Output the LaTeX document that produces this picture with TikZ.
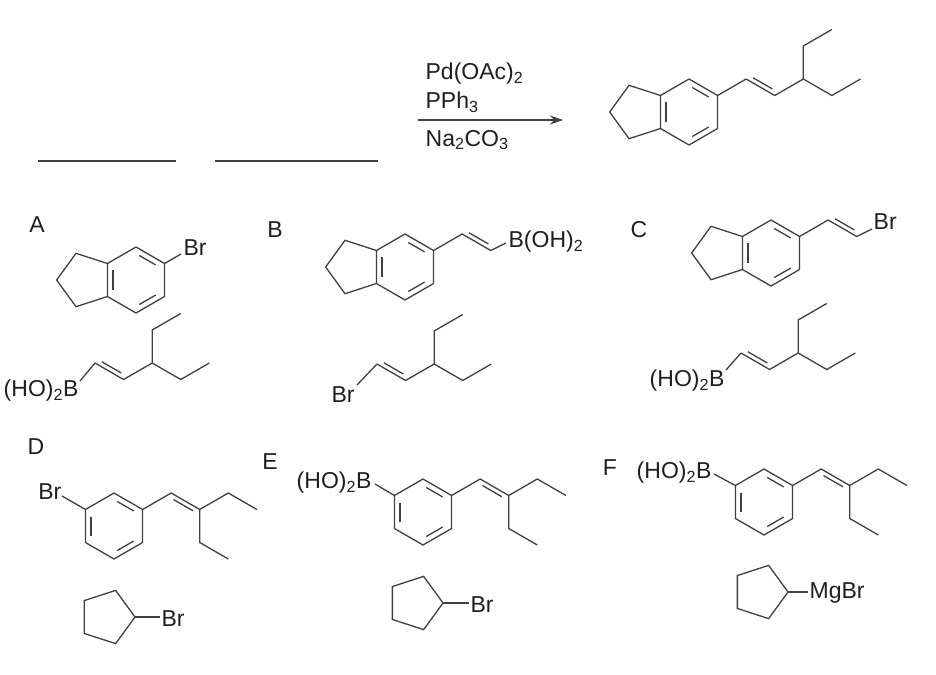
\documentclass[tikz,border=0pt]{standalone}
\usepackage{fontspec}
\setmainfont{Liberation Sans}
\usetikzlibrary{calc,arrows.meta}
\newcommand\innerb[3]{\draw ($($(#1)!.8!(#2)$)!.14!($(#1)!.8!(#3)$)$) -- ($($(#1)!.8!(#3)$)!.14!($(#1)!.8!(#2)$)$);}
\newcommand\alk[4]{\draw ($($(#1)!4.5pt!#3:(#2)$)!.16!($(#2)!4.5pt!#4:(#1)$)$) -- ($($(#2)!4.5pt!#4:(#1)$)!.16!($(#1)!4.5pt!#3:(#2)$)$);}
\newcommand\benz[4]{%
  \coordinate (#1c) at (#2,#3);
  \foreach \n/\a in {t/-90,ur/-30,lr/30,b/90,ll/150,ul/210} {\coordinate (#1\n) at ($(#1c)+(\a:#4)$);}
  \draw (#1t)--(#1ur)--(#1lr)--(#1b)--(#1ll)--(#1ul)--cycle;
  \innerb{#1c}{#1ll}{#1ul}\innerb{#1c}{#1lr}{#1b}\innerb{#1c}{#1t}{#1ur}}
\newcommand\indane[4]{%
  \benz{#1}{#2}{#3}{#4}
  \coordinate (#1p1) at ($(#1ul)+(198:#4)$);
  \coordinate (#1p2) at ($(#1p1)+(126:#4)$);
  \draw (#1ul)--(#1p1)--(#1p2)--($(#1p2)+(54:#4)$)--(#1ll);}
\newcommand\chainR[2]{%
  \coordinate (#1c1) at (#2);
  \coordinate (#1c2) at ($(#1c1)+(30:33)$);
  \coordinate (#1c3) at ($(#1c2)+(-30:33)$);
  \coordinate (#1c4) at ($(#1c3)+(-90:33)$);
  \coordinate (#1c5) at ($(#1c4)+(-30:33)$);
  \coordinate (#1c6) at ($(#1c3)+(30:33)$);
  \coordinate (#1c7) at ($(#1c6)+(-30:33)$);
  \draw (#1c1)--(#1c2)--(#1c3)--(#1c4)--(#1c5) (#1c3)--(#1c6)--(#1c7);
  \alk{#1c1}{#1c2}{90}{-90}}
\newcommand\sidechain[2]{% from ring atom #2
  \coordinate (#1s1) at ($(#2)+(-30:33)$);
  \coordinate (#1s2) at ($(#1s1)+(30:33)$);
  \coordinate (#1s3) at ($(#1s2)+(-30:33)$);
  \coordinate (#1s4) at ($(#1s3)+(30:33)$);
  \coordinate (#1s5) at ($(#1s2)+(90:33)$);
  \coordinate (#1s6) at ($(#1s5)+(30:33)$);
  \draw (#2)--(#1s1)--(#1s2)--(#1s3)--(#1s4) (#1s2)--(#1s5)--(#1s6);
  \alk{#1s1}{#1s2}{-90}{90}}
\newcommand\cpent[4]{%
  \foreach \i/\a in {0/0,1/72,2/144,3/216,4/288} {\coordinate (#1q\i) at ($(#2,#3)+(\a:#4)$);}
  \draw (#1q0)--(#1q1)--(#1q2)--(#1q3)--(#1q4)--cycle;}
\begin{document}
\begin{tikzpicture}[x=1pt,y=-1pt,line width=1.3pt,draw=black!75,
  lbl/.style={inner sep=0pt,font=\fontsize{23}{26}\selectfont,text=black!88},
  reag/.style={lbl,anchor=west}]
\useasboundingbox (0,0) rectangle (936,674);
% blanks and arrow
\coordinate (l1a) at (38,161); \coordinate (l1b) at (176,161);
\coordinate (l2a) at (215,161); \coordinate (l2b) at (378,161);
\draw (l1a)--(l1b) (l2a)--(l2b);
\coordinate (ar1) at (418,120); \coordinate (ar2) at (563,120);
\draw[-{Stealth[length=13pt,width=9pt]}] (ar1)--(ar2);
\node[reag] (r1) at (425,74) {Pd(OAc)\textsubscript{2}};
\node[reag] (r2) at (425,102) {PPh\textsubscript{3}};
\node[reag] (r3) at (425,140) {Na\textsubscript{2}CO\textsubscript{3}};
% product
\indane{P}{689}{112}{33}
\chainR{Pk}{$(Pur)+(-30:33)$}
\draw (Pur)--(Pkc1);
% labels
\node[lbl] (LA) at (37,225) {A};
\node[lbl] (LB) at (275,230) {B};
\node[lbl] (LC) at (639,230) {C};
\node[lbl] (LD) at (36,447) {D};
\node[lbl] (LE) at (270,462) {E};
\node[lbl] (LF) at (610,468) {F};
% A
\indane{A}{136}{280}{33}
\coordinate (Abr) at (181,254);
\draw (Aur)--(Abr);
\node[lbl,anchor=west] (AbrT) at (183,248) {Br};
\chainR{Ak}{95,363}
\coordinate (Abs) at (80,381);
\draw (Abs)--(Akc1);
\node[lbl,anchor=east] (AB) at (79,391) {(HO)\textsubscript{2}B};
% B
\indane{B}{405}{267}{33}
\coordinate (Bv1) at ($(Bur)+(-30:33)$);
\coordinate (Bv2) at ($(Bv1)+(30:33)$);
\coordinate (Bbs) at (506,243);
\draw (Bur)--(Bv1)--(Bv2)--(Bbs);
\alk{Bv1}{Bv2}{90}{-90}
\node[lbl,anchor=west] (BB) at (508,242) {B(OH)\textsubscript{2}};
\chainR{Bk}{377,364}
\coordinate (Bbr) at (357,385);
\draw (Bbr)--(Bkc1);
\node[lbl] (BbrT) at (343,395) {Br};
% C
\indane{C}{771}{253}{33}
\coordinate (Cv1) at ($(Cur)+(-30:33)$);
\coordinate (Cv2) at ($(Cv1)+(30:33)$);
\coordinate (Cbs) at (872,229);
\draw (Cur)--(Cv1)--(Cv2)--(Cbs);
\alk{Cv1}{Cv2}{90}{-90}
\node[lbl,anchor=west] (CbrT) at (873,222) {Br};
\chainR{Ck}{741,353}
\coordinate (Cbb) at (726,370);
\draw (Cbb)--(Ckc1);
\node[lbl,anchor=east] (CB) at (725,381) {(HO)\textsubscript{2}B};
% D
\benz{D}{114}{526}{33}
\coordinate (Dbr) at (62,496);
\draw (Dul)--(Dbr);
\node[lbl,anchor=east] (DbrT) at (62,492) {Br};
\sidechain{Dk}{Dur}
\cpent{Dp}{107}{617}{28}
\coordinate (Dpb) at (160,617);
\draw (Dpq0)--(Dpb);
\node[lbl,anchor=west] (DpT) at (161,619) {Br};
% E
\benz{E}{423}{512}{33}
\coordinate (Ebb) at (375,484);
\draw (Eul)--(Ebb);
\node[lbl,anchor=east] (EB) at (372,483) {(HO)\textsubscript{2}B};
\sidechain{Ek}{Eur}
\cpent{Ep}{415}{603}{28}
\coordinate (Epb) at (469,603);
\draw (Epq0)--(Epb);
\node[lbl,anchor=west] (EpT) at (470,605) {Br};
% F
\benz{F}{764}{502}{33}
\coordinate (Fbb) at (714,474);
\draw (Ful)--(Fbb);
\node[lbl,anchor=east] (FB) at (712,473) {(HO)\textsubscript{2}B};
\sidechain{Fk}{Fur}
\cpent{Fp}{760}{592}{28}
\coordinate (Fpb) at (808,592);
\draw (Fpq0)--(Fpb);
\node[lbl,anchor=west] (FpT) at (809,593) {MgBr};
\end{tikzpicture}
\end{document}
